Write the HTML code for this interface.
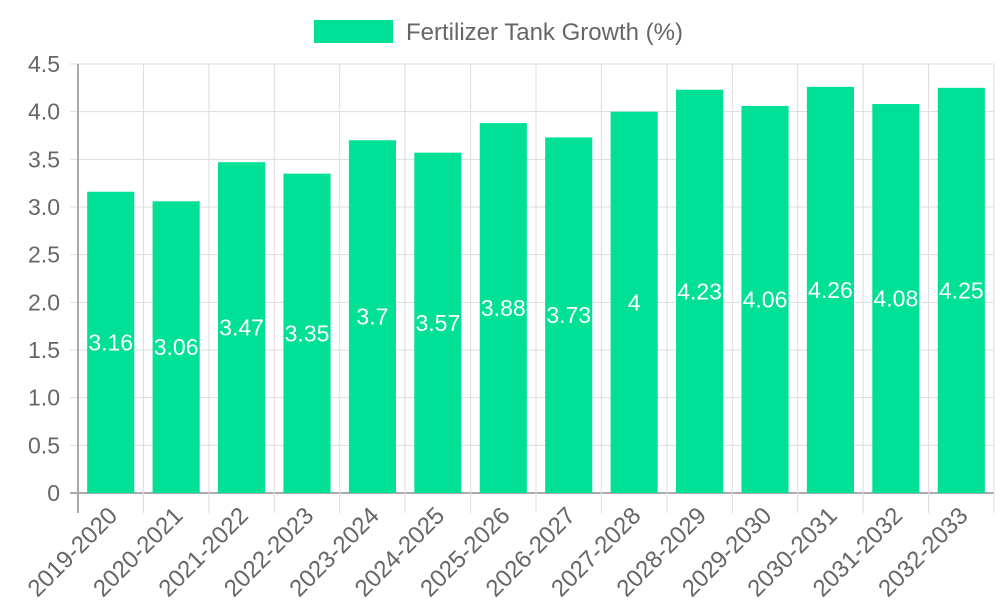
<!DOCTYPE html>
<html><head><meta charset="utf-8"><style>
body{margin:0;background:#fff}
svg{display:block;font-family:"Liberation Sans",sans-serif}
</style></head><body>
<svg id="c" width="1000" height="600">
<g>
<rect x="314" y="20" width="79" height="23" fill="#00e096"></rect>
<text x="406" y="40" font-size="24" fill="#666">Fertilizer Tank Growth (%)</text>
</g>
<g id="grid"></g><g id="bars"></g><g id="labels"></g>
</svg>
<script>
const categories=["2019-2020","2020-2021","2021-2022","2022-2023","2023-2024","2024-2025","2025-2026","2026-2027","2027-2028","2028-2029","2029-2030","2030-2031","2031-2032","2032-2033"];
const values=[3.16,3.06,3.47,3.35,3.7,3.57,3.88,3.73,4,4.23,4.06,4.26,4.08,4.25];
const yTicks=[0,0.5,1,1.5,2,2.5,3,3.5,4,4.5];
const yTickLabels=["0","0.5","1.0","1.5","2.0","2.5","3.0","3.5","4.0","4.5"];
const NS="http://www.w3.org/2000/svg";
const L=78,R=994,T=64,B=493,yMax=4.5;
const y=v=>B-(v/yMax)*(B-T);
const step=(R-L)/categories.length;
const x=i=>L+step*(i+0.5);
function mk(t,a,p){const e=document.createElementNS(NS,t);for(const k in a)e.setAttribute(k,a[k]);p.appendChild(e);return e;}
const grid=document.getElementById('grid'),bars=document.getElementById('bars'),labels=document.getElementById('labels');
yTicks.forEach((v,i)=>{
 const l=mk('line',{x1:70,x2:R,y1:y(v),y2:y(v),stroke:i===0?'#aaa':'#ddd','stroke-width':i===0?2:1},grid);
 
 
 const t=mk('text',{x:60,y:y(v)+8,'text-anchor':'end','font-size':23,fill:'#666'},grid);
 t.textContent=yTickLabels[i];
 
 
});
for(let i=0;i<=categories.length;i++){
 const gx=L+step*i;
 const l=mk('line',{x1:gx,x2:gx,y1:T,y2:B+20,stroke:i===0?'#aaa':'#ddd','stroke-width':i===0?2:1},grid);
 
 
}
const bw=step*0.72;
categories.forEach((c,i)=>{
 const r=mk('rect',{x:x(i)-bw/2,y:y(values[i]),width:bw,height:B-y(values[i]),fill:'#00e096'},bars);
 
 
 const v=mk('text',{x:x(i),y:(y(values[i])+B)/2+8,'text-anchor':'middle','font-size':23,fill:'#fff'},labels);
 v.textContent=values[i];
 
 
 const t=mk('text',{x:x(i)+8,y:B+24,'text-anchor':'end','font-size':24,fill:'#666',transform:`rotate(-45 ${x(i)+8} ${B+24})`},labels);
 t.textContent=c;
 
 
});
</script>
</body></html>
